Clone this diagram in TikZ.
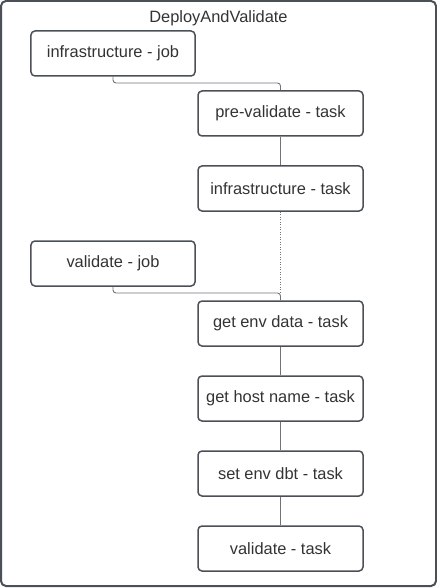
\documentclass[tikz,border=0pt]{standalone}
\usepackage{fontspec}
\setmainfont{Liberation Sans}
\definecolor{framegray}{HTML}{4B5058}
\definecolor{linegray}{HTML}{6E737B}
\definecolor{textgray}{HTML}{333333}
\tikzset{
	jobbox/.style={draw=framegray,line width=1.5bp,rounded corners=4bp,
		minimum width=164bp,minimum height=45bp,inner sep=0pt,
		text=textgray,font=\fontsize{16.4bp}{19bp}\selectfont},
	taskbox/.style={jobbox,minimum width=165bp},
	conn/.style={draw=linegray,line width=0.9bp,rounded corners=3bp},
	waitline/.style={draw=linegray,line width=0.9bp,dash pattern=on 1bp off 1.5bp}
}

\begin{document}
\begin{tikzpicture}[x=1bp,y=-1bp]
	\useasboundingbox (0,0) rectangle (437,588);
	\draw[framegray,line width=2bp,rounded corners=5bp] (1,1) rectangle (436,586);
	\node[text=textgray,font=\fontsize{16.4bp}{19bp}\selectfont] (title) at (218.5,18) {DeployAndValidate};
%
	\node[jobbox] (infjob) at (113,53.5) {infrastructure - job};
	\node[taskbox] (pretask) at (280.5,113.5) {pre-validate - task};
	\node[taskbox] (inftask) at (280.5,188.5) {infrastructure - task};
%
	\node[jobbox] (valjob) at (113,263.5) {validate - job};
	\node[taskbox] (envtask) at (280.5,323.5) {get env data - task};
	\node[taskbox] (hosttask) at (280.5,398.5) {get host name - task};
	\node[taskbox] (dbttask) at (280.5,473.5) {set env dbt - task};
	\node[taskbox] (valtask) at (280.5,548.5) {validate - task};
%
	\coordinate (infjoin) at (280.5,83);
	\coordinate (valjoin) at (280.5,293);
	\draw[conn] (infjob.south) |- (infjoin) -- (pretask.north);
	\draw[conn] (pretask) -- (inftask);
	\draw[waitline] (inftask.south) -- (valjoin);
	\draw[conn] (valjob.south) |- (valjoin) -- (envtask.north);
	\draw[conn] (envtask) -- (hosttask);
	\draw[conn] (hosttask) -- (dbttask);
	\draw[conn] (dbttask) -- (valtask);
\end{tikzpicture}
\end{document}
